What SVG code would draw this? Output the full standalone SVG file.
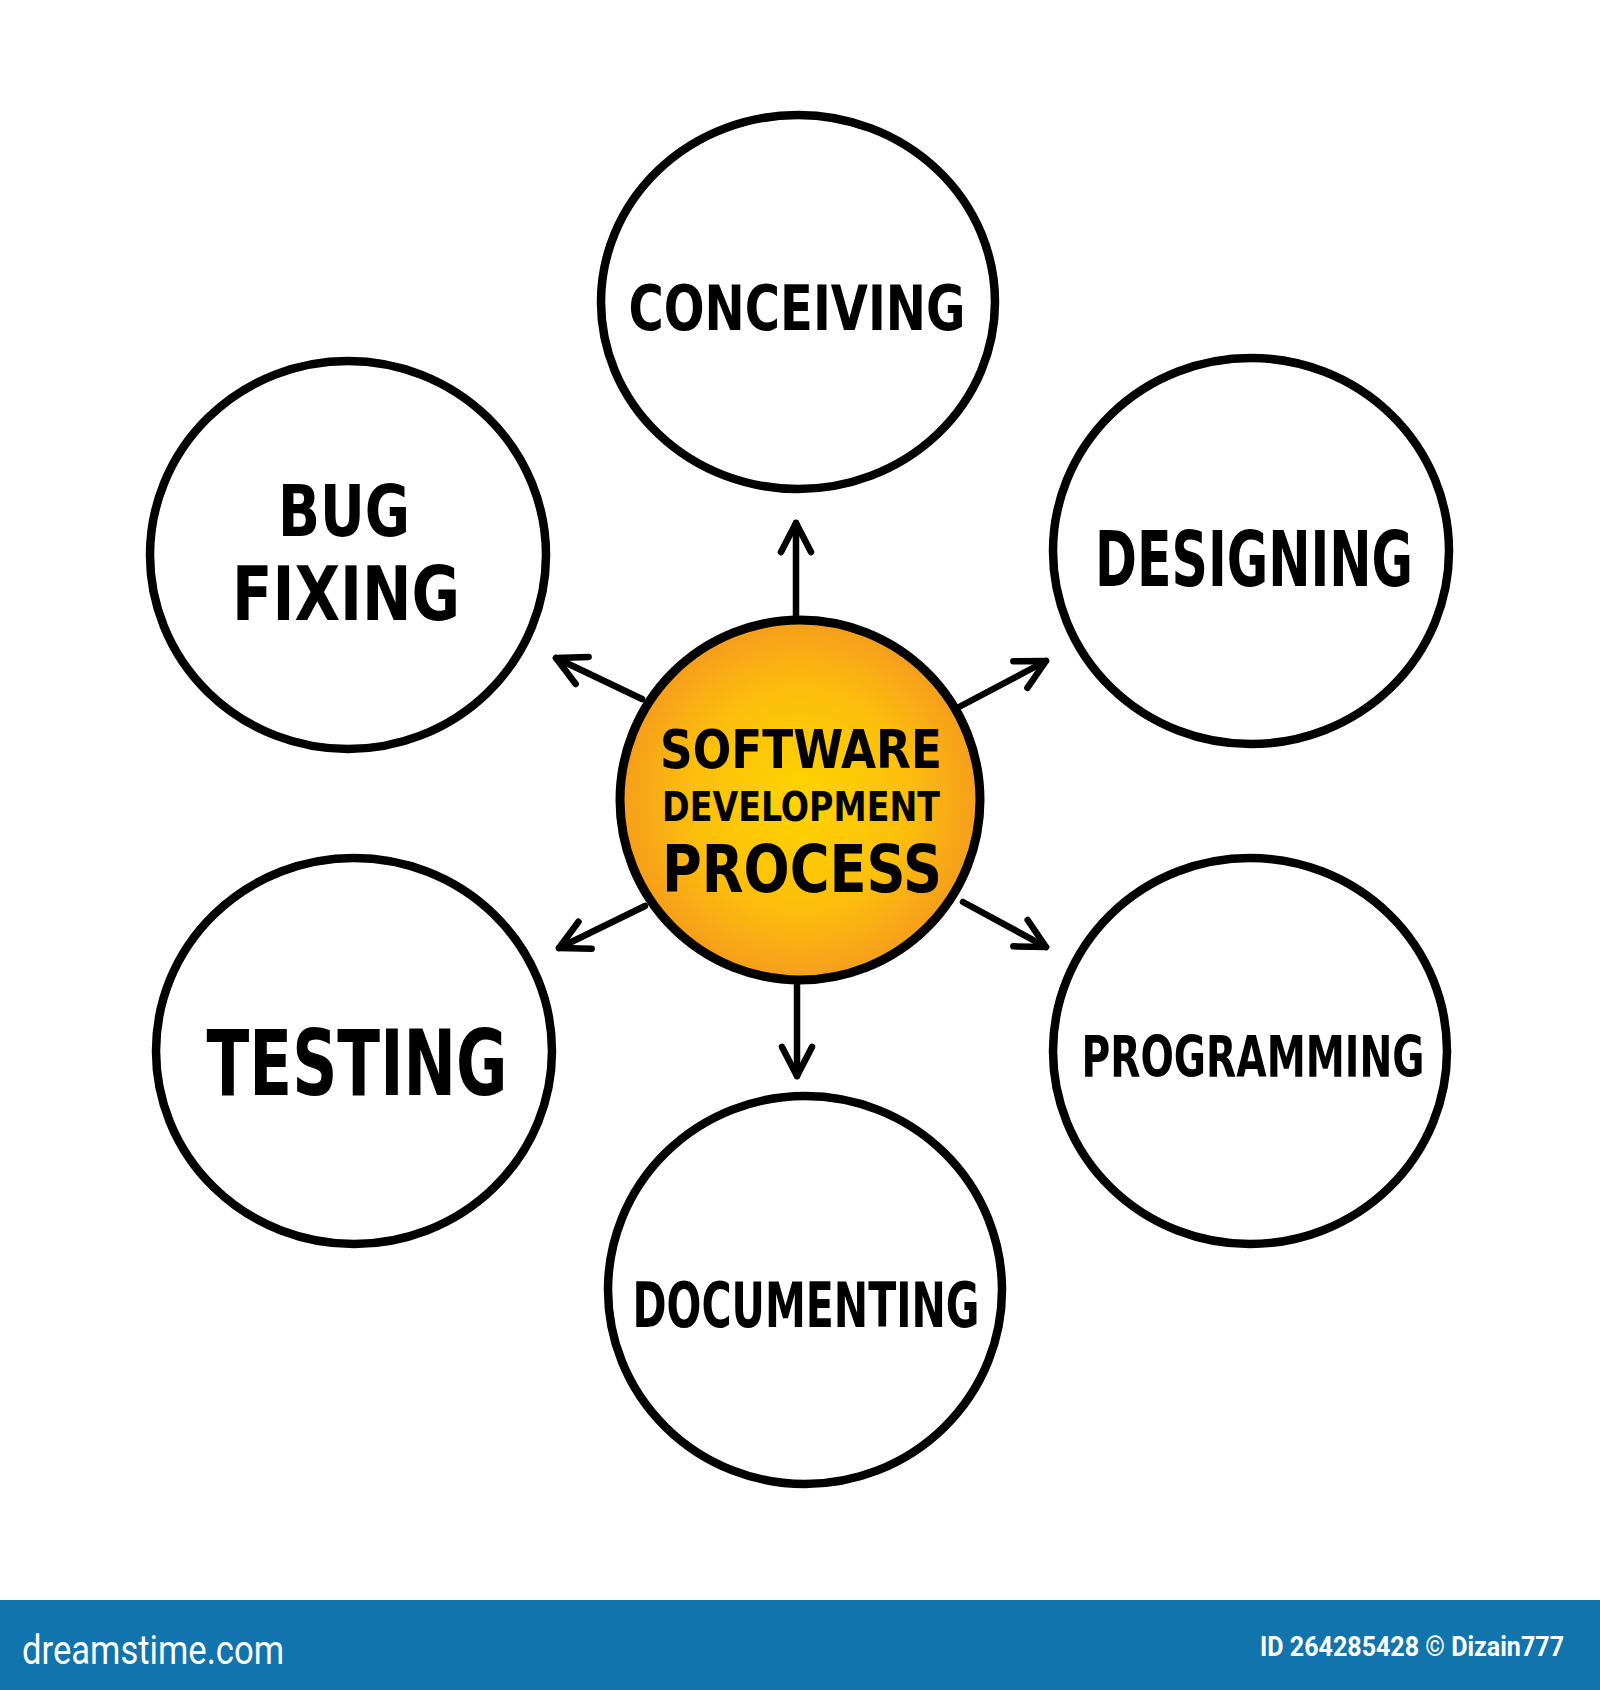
<svg xmlns="http://www.w3.org/2000/svg" width="1600" height="1690" viewBox="0 0 1600 1690">
  <style>
    .node { fill: #ffffff; stroke: #000000; stroke-width: 8.5; }
    .hub { fill: url(#hubGrad); stroke: #000000; stroke-width: 9; }
    .lbl { font-family: "DejaVu Sans Condensed", "DejaVu Sans", sans-serif; font-weight: bold; fill: #000000; text-anchor: middle; }
    .conn { fill: none; stroke: #000000; stroke-width: 6.5; stroke-linecap: round; stroke-linejoin: round; }
    .foot { font-family: Roboto, "Liberation Sans", sans-serif; fill: #ffffff; }
  </style>
  <defs>
    <radialGradient id="hubGrad" cx="0.5" cy="0.5" r="0.5">
      <stop offset="0" stop-color="#ffd400"/>
      <stop offset="0.6" stop-color="#fcbf0c"/>
      <stop offset="1" stop-color="#f59d1c"/>
    </radialGradient>
    <marker id="head" markerUnits="userSpaceOnUse" markerWidth="44" markerHeight="44" viewBox="-36 -22 44 44" refX="0" refY="0" orient="auto">
      <path d="M -29 -15 L 0 0 L -29 15" fill="none" stroke="#000000" stroke-width="6.5" stroke-linecap="round" stroke-linejoin="round"/>
    </marker>
  </defs>
  <rect x="0" y="0" width="1600" height="1690" fill="#ffffff"/>

  <g id="connectors">
    <path class="conn" d="M 796 616 L 796 523" marker-end="url(#head)"/>
    <path class="conn" d="M 797 985 L 797 1076" marker-end="url(#head)"/>
    <path class="conn" d="M 642 699 L 556 658" marker-end="url(#head)"/>
    <path class="conn" d="M 959 707 L 1046 661" marker-end="url(#head)"/>
    <path class="conn" d="M 645 906 L 559 948" marker-end="url(#head)"/>
    <path class="conn" d="M 963 902 L 1046 947" marker-end="url(#head)"/>
  </g>

  <g id="node-conceiving">
    <ellipse class="node" cx="798" cy="302" rx="197" ry="187"/>
    <text class="lbl" x="797" y="330" font-size="62" textLength="337" lengthAdjust="spacingAndGlyphs">CONCEIVING</text>
  </g>
  <g id="node-designing">
    <ellipse class="node" cx="1251" cy="551" rx="198" ry="193"/>
    <text class="lbl" x="1254" y="586" font-size="76" textLength="318" lengthAdjust="spacingAndGlyphs">DESIGNING</text>
  </g>
  <g id="node-bug-fixing">
    <ellipse class="node" cx="348" cy="555" rx="198" ry="194"/>
    <text class="lbl" x="344" y="536" font-size="72" textLength="132" lengthAdjust="spacingAndGlyphs">BUG</text>
    <text class="lbl" x="346" y="620" font-size="74" textLength="228" lengthAdjust="spacingAndGlyphs">FIXING</text>
  </g>
  <g id="node-testing">
    <ellipse class="node" cx="354" cy="1051" rx="198" ry="193"/>
    <text class="lbl" x="357" y="1095" font-size="90" textLength="301" lengthAdjust="spacingAndGlyphs">TESTING</text>
  </g>
  <g id="node-programming">
    <ellipse class="node" cx="1250" cy="1051" rx="197" ry="193"/>
    <text class="lbl" x="1253" y="1077" font-size="57" textLength="343" lengthAdjust="spacingAndGlyphs">PROGRAMMING</text>
  </g>
  <g id="node-documenting">
    <ellipse class="node" cx="805" cy="1290" rx="197" ry="194"/>
    <text class="lbl" x="806" y="1327" font-size="62" textLength="347" lengthAdjust="spacingAndGlyphs">DOCUMENTING</text>
  </g>
  <g id="node-center">
    <circle class="hub" cx="800" cy="800" r="180"/>
    <text class="lbl" x="801" y="768" font-size="54" textLength="282" lengthAdjust="spacingAndGlyphs">SOFTWARE</text>
    <text class="lbl" x="801" y="821" font-size="40" textLength="278" lengthAdjust="spacingAndGlyphs">DEVELOPMENT</text>
    <text class="lbl" x="802" y="892" font-size="66" textLength="280" lengthAdjust="spacingAndGlyphs">PROCESS</text>
  </g>

  <g id="footer">
    <rect x="0" y="1600" width="1600" height="90" fill="#1274ac"/>
    <text class="foot" x="22" y="1664" font-size="40" textLength="262" lengthAdjust="spacingAndGlyphs">dreamstime.com</text>
    <text class="foot" x="1260" y="1656" font-size="27" font-weight="bold" textLength="304" lengthAdjust="spacingAndGlyphs">ID 264285428 © Dizain777</text>
  </g>
</svg>
